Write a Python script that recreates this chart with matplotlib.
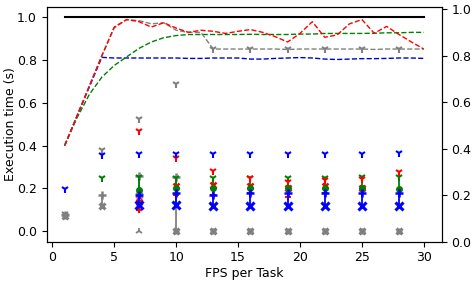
import numpy as np
import matplotlib
matplotlib.use("Agg")
import matplotlib.pyplot as plt

plt.rcParams['font.size'] = 9

# FPS per task for the dashed lines
fps = np.arange(1, 31)

line_red = [0.40, 0.54, 0.68, 0.82, 0.955, 0.99, 0.98, 0.955, 0.975, 0.95,
            0.93, 0.94, 0.935, 0.925, 0.935, 0.943, 0.93, 0.91, 0.885, 0.925,
            0.98, 0.907, 0.918, 0.97, 0.99, 0.926, 0.958, 0.92, 0.885, 0.852]
line_gray = [0.40, 0.54, 0.68, 0.82, 0.95, 0.99, 0.985, 0.97, 0.975, 0.94,
             0.93, 0.93, 0.852, 0.852, 0.852, 0.852, 0.852, 0.852, 0.85, 0.852,
             0.852, 0.852, 0.852, 0.852, 0.852, 0.85, 0.852, 0.852, 0.852, 0.852]
line_green = [0.40, 0.53, 0.64, 0.72, 0.775, 0.815, 0.855, 0.885, 0.905, 0.915,
              0.92, 0.92, 0.92, 0.92, 0.92, 0.921, 0.92, 0.92, 0.92, 0.922,
              0.922, 0.925, 0.925, 0.925, 0.925, 0.926, 0.928, 0.928, 0.93, 0.93]
line_blue = [0.40, 0.537, 0.675, 0.813, 0.81, 0.81, 0.81, 0.81, 0.81, 0.81,
             0.808, 0.808, 0.81, 0.81, 0.81, 0.805, 0.805, 0.808, 0.81, 0.812,
             0.81, 0.805, 0.803, 0.805, 0.807, 0.807, 0.808, 0.81, 0.81, 0.808]
deadline = [1.0] * 30

# measured execution times, every 3 FPS
xs = [1, 4, 7, 10, 13, 16, 19, 22, 25, 28]

gray_max = [0.08, 0.38, 0.525, 0.69, 0.852, 0.852, 0.852, 0.852, 0.852, 0.852]
gray_mid = [0.075, 0.168, 0.258, 0.255, np.nan, np.nan, np.nan, np.nan, np.nan, np.nan]
gray_min = [0.07, 0.117, 0.168, 0.0, 0.0, 0.0, 0.0, 0.0, 0.0, 0.0]
gray_low = [np.nan, np.nan, 0.0, np.nan, np.nan, np.nan, np.nan, np.nan, np.nan, np.nan]

red_max = [np.nan, np.nan, 0.47, 0.34, 0.28, 0.25, 0.23, 0.24, 0.245, 0.275]
red_mid = [np.nan, np.nan, 0.137, 0.21, 0.215, 0.21, 0.2, 0.21, 0.2, np.nan]
red_min = [np.nan, np.nan, 0.1, 0.17, 0.17, 0.18, 0.16, 0.18, 0.195, np.nan]

green_max = [np.nan, 0.247, 0.255, 0.25, 0.25, 0.25, 0.25, 0.25, 0.255, 0.255]
green_mid = [np.nan, np.nan, 0.19, 0.2, 0.2, 0.2, 0.2, 0.2, 0.2, 0.195]

blue_max = [0.195, 0.357, 0.36, 0.36, 0.36, 0.36, 0.36, 0.36, 0.362, 0.365]
blue_mid = [np.nan, np.nan, 0.17, 0.18, 0.168, 0.18, 0.18, 0.18, 0.18, 0.18]
blue_min = [np.nan, np.nan, 0.12, 0.12, 0.117, 0.117, 0.117, 0.117, 0.117, 0.117]

fig, ax = plt.subplots(figsize=(4.74, 2.81), dpi=100)
fig.subplots_adjust(left=0.0985, right=0.932, top=0.976, bottom=0.14)

ax.plot(fps, deadline, color='black', lw=1.5)
ax.plot(fps, line_blue, '--', color='mediumblue', lw=1.0)
ax.plot(fps, line_green, '--', color='green', lw=1.0)
ax.plot(fps, line_gray, '--', color='gray', lw=1.0)
ax.plot(fps, line_red, '--', color='red', lw=1.0)

# gray
ax.plot(xs, gray_max, '1', color='gray', ms=6, mew=1.5)
ax.vlines(xs, gray_min, gray_mid, color='gray', lw=1.3)
ax.plot(xs, gray_mid, '+', color='gray', ms=6, mew=1.8)
ax.plot(xs, gray_min, 'x', color='gray', ms=5, mew=2.2)
ax.plot(xs[3:], gray_min[3:], '+', color='gray', ms=5, mew=1.8)
ax.plot(xs, gray_low, '2', color='gray', ms=5, mew=1.3)

# green
ax.plot(xs, green_max, '1', color='green', ms=6, mew=1.5)
ax.vlines(xs, green_mid, green_max, color='green', lw=1.3)

# red
ax.plot(xs, red_max, '1', color='red', ms=6, mew=1.5)
ax.plot(xs, red_mid, 'x', color='red', ms=5, mew=1.8)
ax.plot(xs, red_min, '+', color='red', ms=5, mew=1.5)

ax.plot(xs, green_mid, 'o', color='green', ms=4)

# blue
ax.plot(xs, blue_max, '1', color='blue', ms=6, mew=1.5)
ax.vlines(xs, blue_min, blue_mid, color='blue', lw=1.3)
ax.plot(xs, blue_mid, '+', color='blue', ms=6, mew=1.8)
ax.plot(xs, blue_min, 'x', color='blue', ms=6, mew=2.2)

ax.set_xlabel('FPS per Task', labelpad=2)
ax.set_ylabel('Execution time (s)', labelpad=0)
ax.set_xticks([0, 5, 10, 15, 20, 25, 30])
ax.set_yticks([0.0, 0.2, 0.4, 0.6, 0.8, 1.0])

ax2 = ax.twinx()
ax2.set_ylim(0, 1.011)
ax2.set_yticks([0.0, 0.2, 0.4, 0.6, 0.8, 1.0])

fig.savefig('out.png', dpi=100)
